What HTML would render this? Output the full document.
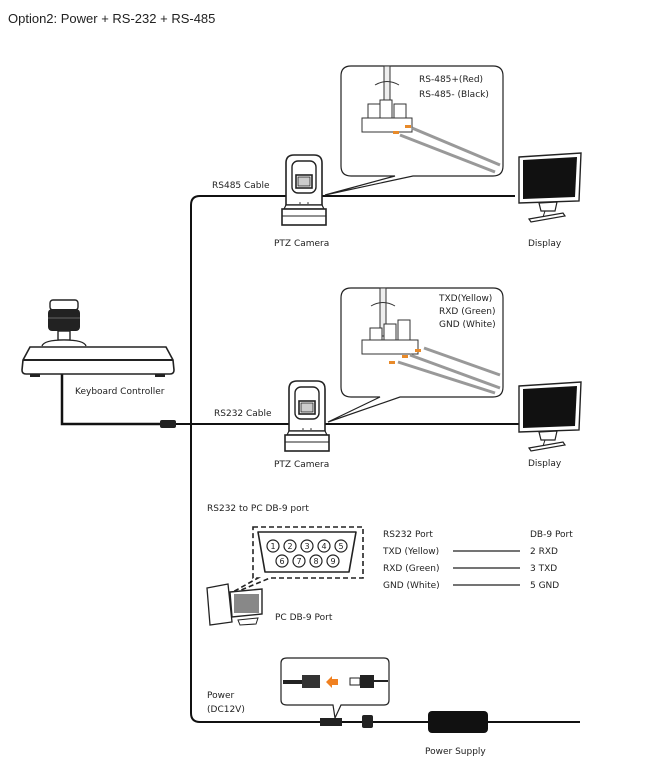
<!DOCTYPE html>
<html><head><meta charset="utf-8"><style>
html,body{margin:0;padding:0;background:#fff;}
svg{display:block;}
text{font-family:"DejaVu Sans","Liberation Sans",sans-serif;fill:#222;}
.t{font-size:9px;}
</style></head><body>
<svg width="650" height="761" viewBox="0 0 650 761" xmlns="http://www.w3.org/2000/svg">
<defs>
<g id="cam">
  <path d="M4,8 Q4,0 12,0 L32,0 Q40,0 40,8 L40,50 L4,50 Z" fill="#fff" stroke="#222" stroke-width="1.6"/>
  <rect x="10" y="6" width="24" height="32" rx="6" fill="#fff" stroke="#222" stroke-width="1.4"/>
  <rect x="14" y="20" width="16" height="13" fill="#fff" stroke="#222" stroke-width="1.6"/>
  <rect x="16" y="22" width="12" height="9" fill="#ccc" stroke="#222" stroke-width="0.8"/>
  <path d="M4,50 L40,50 L42,54 L2,54 Z" fill="#fff" stroke="#222" stroke-width="1.2"/>
  <rect x="0" y="54" width="44" height="16" fill="#fff" stroke="#222" stroke-width="1.6"/>
  <line x1="0" y1="61" x2="44" y2="61" stroke="#222" stroke-width="1"/>
  <circle cx="18" cy="48" r="0.8" fill="#222"/><circle cx="26" cy="48" r="0.8" fill="#222"/>
</g>
<g id="disp">
  <path d="M2,4 L64,0 L62,48 L2,50 Z" fill="#fff" stroke="#222" stroke-width="1.4"/>
  <path d="M6,7 L60,4 L58,44 L6,46 Z" fill="#111"/>
  <path d="M22,50 L40,49 L38,58 L24,58 Z" fill="#fff" stroke="#222" stroke-width="1.2"/>
  <path d="M12,66 L46,60 L48,63 L14,69 Z" fill="#fff" stroke="#222" stroke-width="1.2"/>
  <line x1="28" y1="58" x2="26" y2="64" stroke="#222"/>
</g>
</defs>

<text x="8" y="23" style="font-family:'Liberation Sans',sans-serif;font-size:13px;">Option2: Power + RS-232 + RS-485</text>

<!-- main lines -->
<path d="M515,196 L200,196 Q191,196 191,205 L191,713 Q191,722 200,722 L580,722" fill="none" stroke="#111" stroke-width="2"/>
<line x1="176" y1="424" x2="520" y2="424" stroke="#111" stroke-width="2"/>
<path d="M62,368 L62,424 L165,424" fill="none" stroke="#111" stroke-width="2.5"/>
<rect x="160" y="420" width="16" height="8" rx="2" fill="#222"/>
<line x1="194" y1="424" x2="191" y2="424" stroke="#111" stroke-width="2"/>

<!-- Keyboard -->
<rect x="50" y="300" width="28" height="10" rx="3" fill="#fff" stroke="#222" stroke-width="1.4"/>
<rect x="48" y="309" width="32" height="22" rx="4" fill="#222"/>
<line x1="48" y1="318" x2="80" y2="318" stroke="#666"/>
<rect x="58" y="331" width="12" height="9" fill="#fff" stroke="#222" stroke-width="1.4"/>
<path d="M42,346 Q44,340 64,340 Q84,340 86,346" fill="#fff" stroke="#222" stroke-width="1.3"/>
<path d="M30,347 L166,347 L173,360 L174,370 Q174,374 170,374 L26,374 Q22,374 22,370 L23,360 Z" fill="#fff" stroke="#222" stroke-width="1.6"/>
<line x1="23" y1="360" x2="173" y2="360" stroke="#222" stroke-width="2"/>
<rect x="30" y="374" width="10" height="3" fill="#222"/><rect x="155" y="374" width="10" height="3" fill="#222"/>
<text x="75" y="394" class="t">Keyboard Controller</text>

<!-- Row 1 -->
<text x="212" y="188" class="t">RS485 Cable</text>
<use href="#cam" x="282" y="155"/>
<text x="274" y="246" class="t">PTZ Camera</text>
<use href="#disp" x="517" y="153"/>
<text x="528" y="246" class="t">Display</text>
<path d="M351,66 L493,66 Q503,66 503,76 L503,166 Q503,176 493,176 L413,176 L325,195 L395,176 L351,176 Q341,176 341,166 L341,76 Q341,66 351,66 Z" fill="#fff" stroke="#222" stroke-width="1.2"/>
<g stroke="#333" fill="#fff" stroke-width="1">
  <rect x="384" y="66" width="6" height="48" fill="#eee"/>
  <path d="M375,85 Q387,78 399,85" fill="none"/>
  <rect x="368" y="104" width="12" height="18"/><rect x="380" y="100" width="12" height="20"/><rect x="394" y="104" width="12" height="18"/>
  <rect x="362" y="118" width="50" height="14"/>
  <line x1="412" y1="128" x2="500" y2="165" stroke="#999" stroke-width="3"/>
  <line x1="400" y1="135" x2="495" y2="172" stroke="#999" stroke-width="3"/>
</g>
<rect x="405" y="125" width="6" height="3" fill="#e88a2a"/><rect x="393" y="131" width="6" height="3" fill="#e88a2a"/>
<text x="419" y="82" class="t">RS-485+(Red)</text>
<text x="419" y="97" class="t">RS-485- (Black)</text>

<!-- Row 2 -->
<text x="214" y="416" class="t">RS232 Cable</text>
<use href="#cam" x="285" y="381"/>
<text x="274" y="467" class="t">PTZ Camera</text>
<use href="#disp" x="517" y="382"/>
<text x="528" y="466" class="t">Display</text>
<path d="M351,288 L493,288 Q503,288 503,298 L503,387 Q503,397 493,397 L400,397 L328,422 L380,397 L351,397 Q341,397 341,387 L341,298 Q341,288 351,288 Z" fill="#fff" stroke="#222" stroke-width="1.2"/>
<g stroke="#333" fill="#fff" stroke-width="1">
  <rect x="380" y="288" width="6" height="48" fill="#eee"/>
  <path d="M371,306 Q383,299 395,306" fill="none"/>
  <rect x="370" y="328" width="12" height="18"/><rect x="384" y="324" width="12" height="20"/><rect x="398" y="320" width="12" height="20"/>
  <rect x="362" y="340" width="56" height="14"/>
  <line x1="424" y1="348" x2="500" y2="375" stroke="#999" stroke-width="3"/>
  <line x1="410" y1="355" x2="500" y2="388" stroke="#999" stroke-width="3"/>
  <line x1="398" y1="362" x2="495" y2="393" stroke="#999" stroke-width="3"/>
</g>
<rect x="415" y="349" width="6" height="3" fill="#e88a2a"/><rect x="402" y="355" width="6" height="3" fill="#e88a2a"/><rect x="389" y="361" width="6" height="3" fill="#e88a2a"/>
<text x="439" y="301" class="t">TXD(Yellow)</text>
<text x="439" y="314" class="t">RXD (Green)</text>
<text x="439" y="327" class="t">GND (White)</text>

<!-- DB9 section -->
<text x="207" y="511" class="t">RS232 to PC DB-9 port</text>
<path d="M253,527 L363,527 L363,578 L270,578 L222,598 L258,578 L253,578 Z" fill="#fff" stroke="#222" stroke-width="1.6" stroke-dasharray="5,3"/>
<path d="M258,532 L356,532 L349,572 L265,572 Z" fill="#fff" stroke="#222" stroke-width="1.6" stroke-linejoin="round"/>
<g fill="#fff" stroke="#222" stroke-width="1.2" font-size="8">
<circle cx="273" cy="546" r="6"/><circle cx="290" cy="546" r="6"/><circle cx="307" cy="546" r="6"/><circle cx="324" cy="546" r="6"/><circle cx="341" cy="546" r="6"/>
<circle cx="282" cy="561" r="6"/><circle cx="299" cy="561" r="6"/><circle cx="316" cy="561" r="6"/><circle cx="333" cy="561" r="6"/>
</g>
<g font-size="8" text-anchor="middle">
<text x="273" y="549">1</text><text x="290" y="549">2</text><text x="307" y="549">3</text><text x="324" y="549">4</text><text x="341" y="549">5</text>
<text x="282" y="564">6</text><text x="299" y="564">7</text><text x="316" y="564">8</text><text x="333" y="564">9</text>
</g>
<!-- PC -->
<path d="M207,588 L228,584 L232,622 L210,625 Z" fill="#fff" stroke="#222" stroke-width="1.3"/>
<path d="M230,592 L262,589 L262,614 L232,617 Z" fill="#fff" stroke="#222" stroke-width="1.4"/>
<rect x="234" y="594" width="25" height="19" fill="#888"/>
<path d="M238,620 L258,618 L256,624 L240,625 Z" fill="#fff" stroke="#222"/>
<text x="275" y="620" class="t">PC DB-9 Port</text>

<g class="t">
<text x="383" y="537" class="t">RS232 Port</text>
<text x="530" y="537" class="t">DB-9 Port</text>
<text x="383" y="554" class="t">TXD (Yellow)</text>
<text x="383" y="571" class="t">RXD (Green)</text>
<text x="383" y="588" class="t">GND (White)</text>
<text x="530" y="554" class="t">2 RXD</text>
<text x="530" y="571" class="t">3 TXD</text>
<text x="530" y="588" class="t">5 GND</text>
</g>
<g stroke="#222" stroke-width="1.2">
<line x1="453" y1="551" x2="520" y2="551"/><line x1="453" y1="568" x2="520" y2="568"/><line x1="453" y1="585" x2="520" y2="585"/>
</g>

<!-- Power -->
<path d="M287,658 L384,658 Q389,658 389,663 L389,700 Q389,705 384,705 L341,705 L335,718 L333,705 L287,705 Q281,705 281,700 L281,663 Q281,658 287,658 Z" fill="#fff" stroke="#222" stroke-width="1.2"/>
<rect x="283" y="680" width="20" height="4" fill="#222"/>
<rect x="302" y="675" width="18" height="13" fill="#333"/>
<path d="M326,682 L332,676 L332,679 L338,679 L338,685 L332,685 L332,688 Z" fill="#f08020"/>
<rect x="350" y="678" width="10" height="7" fill="#fff" stroke="#222"/>
<rect x="360" y="675" width="14" height="13" fill="#222"/>
<line x1="374" y1="681" x2="388" y2="681" stroke="#222" stroke-width="2"/>
<text x="207" y="698" class="t">Power</text>
<text x="207" y="712" class="t">(DC12V)</text>
<rect x="320" y="718" width="22" height="8" fill="#222"/>
<rect x="362" y="715" width="11" height="13" rx="2" fill="#222"/>
<rect x="428" y="711" width="60" height="22" rx="4" fill="#111"/>
<text x="425" y="754" class="t">Power Supply</text>
</svg>
</body></html>
